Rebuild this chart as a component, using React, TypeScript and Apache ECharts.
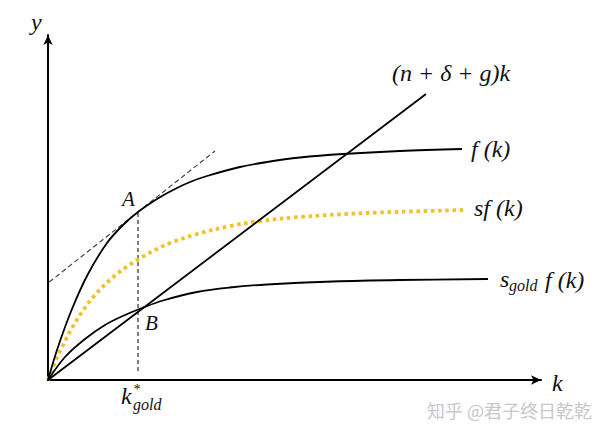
import React, { useEffect, useRef } from "react";
import * as echarts from "echarts";

// Data in chart units: x = capital per worker k, y = output / investment
const fK: [number, number][] = [
  [0, 0], [10, 33], [24, 71], [40, 106], [59, 137], [75, 155], [90, 168], [109, 181],
  [125, 190], [142, 198], [159, 204], [192, 213], [219, 218], [252, 222.5], [295, 226],
  [352, 229], [414, 231],
];
const sfK: [number, number][] = [
  [0, 0], [7, 18], [15, 35], [24, 52], [34, 68], [47, 85], [64, 102], [80, 114], [94, 123],
  [109, 131], [122, 137], [149, 146], [182, 154], [212, 159], [252, 163], [319, 167],
  [416, 170],
];
const sGoldFK: [number, number][] = [
  [0, 0], [17, 23], [37, 41], [57, 55], [77, 65], [94, 72], [115, 79.5], [149, 88],
  [182, 92.5], [219, 95.5], [285, 98.5], [352, 100], [440, 101],
];
const breakEven: [number, number][] = [[0, 0], [378, 286]];
const tangentA: [number, number][] = [[-5, 93], [167, 229]];
const kGold = 90;
const pointA: [number, number] = [90, 167];
const guideBottom = 7;

const X_MAX = 493;
const Y_MAX = 345;

const FONT = "Liberation Serif";

export default function App() {
  const ref = useRef<HTMLDivElement>(null);
  useEffect(() => {
    if (!ref.current) return;
    const chart = echarts.init(ref.current, undefined, { renderer: "svg" });
    const it = (text: string, x: number, y: number, size = 19, extra: any = {}) => ({
      type: "text",
      x,
      y,
      style: {
        text,
        font: `italic ${size}px "${FONT}"`,
        fill: "#111",
        textVerticalAlign: "middle",
        ...extra,
      },
    });
    const curve = (name: string, data: [number, number][], lineStyle: any) => ({
      type: "line",
      name,
      data,
      smooth: 0.35,
      showSymbol: false,
      lineStyle,
    });
    chart.setOption({
      animation: false,
      backgroundColor: "#fff",
      grid: { left: 48, right: 603 - 48 - X_MAX, top: 380 - Y_MAX, bottom: 54 },
      xAxis: {
        type: "value",
        min: 0,
        max: X_MAX,
        axisLine: {
          show: true,
          symbol: ["none", "arrow"],
          symbolSize: [7, 10],
          lineStyle: { color: "#000", width: 2 },
        },
        axisTick: { show: false },
        axisLabel: { show: false },
        splitLine: { show: false },
      },
      yAxis: {
        type: "value",
        min: 0,
        max: Y_MAX,
        axisLine: {
          show: true,
          symbol: ["none", "arrow"],
          symbolSize: [7, 10],
          lineStyle: { color: "#000", width: 2 },
        },
        axisTick: { show: false },
        axisLabel: { show: false },
        splitLine: { show: false },
      },
      series: [
        {
          type: "line",
          name: "tangent",
          data: tangentA,
          showSymbol: false,
          clip: false,
          lineStyle: { color: "#3a3a3a", width: 1.1, type: [5, 3] },
        },
        {
          type: "line",
          name: "guide",
          data: [[kGold, pointA[1]], [kGold, guideBottom]],
          showSymbol: false,
          lineStyle: { color: "#3a3a3a", width: 1.3, type: [4, 3] },
        },
        curve("sf", sfK, { color: "#F2C12E", width: 3.8, type: [3.6, 3.6], cap: "butt" }),
        curve("f", fK, { color: "#000", width: 1.8 }),
        curve("sgold", sGoldFK, { color: "#000", width: 1.8 }),
        {
          type: "line",
          name: "breakeven",
          data: breakEven,
          showSymbol: false,
          lineStyle: { color: "#000", width: 1.8 },
        },
      ],
      graphic: [
        it("y", 31, 22, 24),
        it("k", 552, 383, 24),
        it("A", 122, 199, 21),
        it("B", 145, 323, 21),
        it("(n + δ + g)k", 392, 73, 24),
        it("f (k)", 471, 149, 24),
        it("sf (k)", 474, 208, 24),
        it("s", 500, 279, 24),
        it("gold", 509, 285, 16),
        it("f (k)", 545, 280, 24),
        it("k", 121, 396, 24),
        it("*", 133, 389, 14),
        it("gold", 133, 404, 16),
        {
          type: "text",
          x: 427,
          y: 410,
          style: {
            text: "知乎 @君子终日乾乾",
            font: '18px "Noto Sans CJK SC"',
            fill: "#c8c8c8",
            textVerticalAlign: "middle",
          },
        },
      ],
    });
    return () => chart.dispose();
  }, []);
  return (
    <div
      ref={ref}
      style={{ position: "absolute", left: 0, top: 0, width: 603, height: 434 }}
    />
  );
}
